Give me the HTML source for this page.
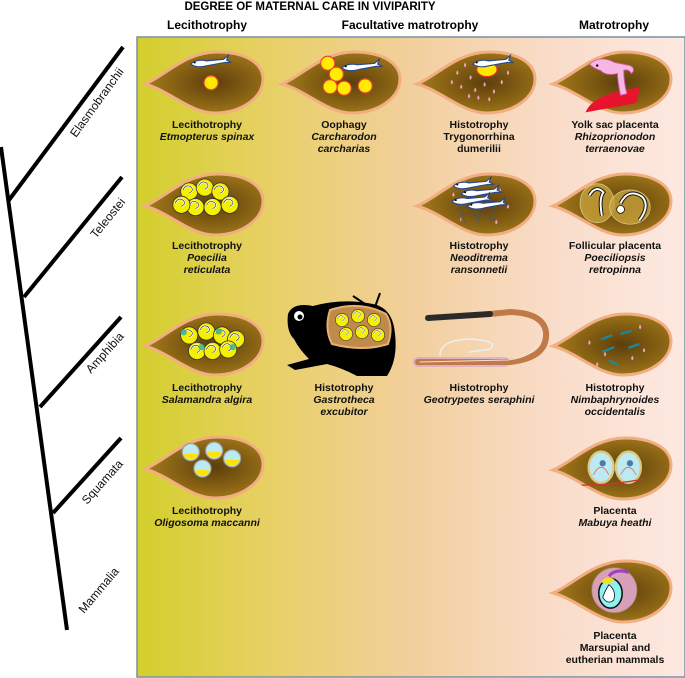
<!DOCTYPE html>
<html><head><meta charset="utf-8"><style>
html,body{margin:0;padding:0;background:#fff}
svg{display:block;font-family:"Liberation Sans",Arial,sans-serif}
.l{font-size:10.5px;font-weight:bold;text-anchor:middle;fill:#111}
.i{font-style:italic}
</style></head><body>
<svg width="685" height="678" viewBox="0 0 685 678">
<defs>
<linearGradient id="bg" x1="0" x2="1" y1="0" y2="0">
<stop offset="0" stop-color="#d3cf2c"/>
<stop offset="0.25" stop-color="#e8d068"/>
<stop offset="0.5" stop-color="#f2cf9c"/>
<stop offset="0.75" stop-color="#f9dcc8"/>
<stop offset="1" stop-color="#fde9e2"/>
</linearGradient>
<radialGradient id="bl" cx="0.58" cy="0.5" r="0.6">
<stop offset="0" stop-color="#5c3e0c"/>
<stop offset="0.6" stop-color="#8a6414"/>
<stop offset="1" stop-color="#a7801e"/>
</radialGradient>
<path id="blob" d="M0,34 C20,26 40,2 72,2 C102,2 118,14 118,29 C118,48 96,63 70,63 C45,63 25,41 0,34 Z" fill="url(#bl)" stroke="#f2ae80" stroke-width="3"/>
<g id="yolk"><circle r="9" fill="#ffec00" stroke="#e43" stroke-width="1.5"/></g>
<g id="egg"><circle r="11" fill="#f5f000" stroke="#333" stroke-width="1"/><path d="M-8,-2 q4,-8 10,-4 q5,4 -2,8" fill="none" stroke="#fff" stroke-width="2.5"/><path d="M-8,-2 q4,-8 10,-4 q5,4 -2,8" fill="none" stroke="#222" stroke-width="0.8"/></g>
<g id="fish"><path d="M0,0 q8,-7 20,-4 l22,-2 l6,-5 l-2,6 l6,3 l-8,0 l-22,4 q-14,4 -22,-2z" fill="#fff" stroke="#2a4a8a" stroke-width="1.5"/><circle cx="5" cy="-2" r="1.3" fill="#000"/></g>
<g id="drop"><path d="M0,-4 q3,4 0,6 q-3,-2 0,-6z" fill="#f0a0b4"/></g>
</defs>
<rect x="137" y="37" width="548" height="640" fill="url(#bg)" stroke="#7d8fa0" stroke-width="1.5"/>
<text x="310" y="10" font-size="11.5" font-weight="bold" text-anchor="middle">DEGREE OF MATERNAL CARE IN VIVIPARITY</text>
<text x="207" y="29" font-size="12" font-weight="bold" text-anchor="middle">Lecithotrophy</text>
<text x="410" y="29" font-size="12" font-weight="bold" text-anchor="middle">Facultative matrotrophy</text>
<text x="614" y="29" font-size="12" font-weight="bold" text-anchor="middle">Matrotrophy</text>
<g stroke="#000" stroke-width="4" fill="none">
<path d="M1,147 L67,630"/>
<path d="M9,200 L123,47"/>
<path d="M24,297 L122,177"/>
<path d="M40,407 L121,317"/>
<path d="M53,513 L121,438"/>
</g>
<g font-size="12" fill="#111">
<text transform="translate(76,138) rotate(-54)">Elasmobranchii</text>
<text transform="translate(96,239) rotate(-51)">Teleostei</text>
<text transform="translate(91,374) rotate(-48)">Amphibia</text>
<text transform="translate(87,505) rotate(-48)">Squamata</text>
<text transform="translate(84,614) rotate(-50)">Mammalia</text>
</g>
<g transform="translate(145,50)"><use href="#blob"/><g transform="translate(13,0) scale(0.78)"><use href="#fish" x="42" y="18"/><use href="#yolk" x="68" y="42"/></g></g>
<g transform="translate(282,50)"><use href="#blob"/><g transform="translate(13,0) scale(0.78)"><use href="#yolk" x="42" y="17"/><use href="#yolk" x="53" y="31"/><use href="#yolk" x="45" y="47"/><use href="#yolk" x="63" y="49"/><use href="#yolk" x="90" y="46"/><use href="#fish" x="60" y="23"/></g></g>
<g transform="translate(417,50)"><use href="#blob"/><g transform="translate(13,0) scale(0.78)">
<use href="#drop" x="35" y="30"/><use href="#drop" x="45" y="20"/><use href="#drop" x="52" y="36"/><use href="#drop" x="40" y="48"/><use href="#drop" x="58" y="52"/><use href="#drop" x="70" y="45"/><use href="#drop" x="82" y="54"/><use href="#drop" x="92" y="42"/><use href="#drop" x="100" y="30"/><use href="#drop" x="62" y="62"/><use href="#drop" x="76" y="64"/><use href="#drop" x="50" y="60"/><use href="#drop" x="28" y="42"/>
<ellipse cx="73" cy="25" rx="13" ry="9" fill="#ffe800" stroke="#e33" stroke-width="1.5"/><use href="#fish" x="55" y="18"/></g></g>
<g transform="translate(553,50)"><use href="#blob"/><g transform="translate(13,0) scale(0.78)"><path d="M25,80 q10,-25 70,-32 l-5,20 z" fill="#e8132c"/><path d="M30,18 q14,-12 32,-2 l20,4 q8,4 2,10 q-4,-6 -10,-4 q0,15 4,30 l-8,2 q-4,-18 -4,-28 q-14,4 -22,-4 q-8,-2 -14,-8z" fill="#f6b7e4" stroke="#d65caa" stroke-width="1.2"/><circle cx="40" cy="20" r="1.5" fill="#000"/></g></g>
<text class="l" x="207" y="128">Lecithotrophy</text><text class="l i" x="207" y="140">Etmopterus spinax</text>
<text class="l" x="344" y="128">Oophagy</text><text class="l i" x="344" y="140">Carcharodon</text><text class="l i" x="344" y="152">carcharias</text>
<text class="l" x="479" y="128">Histotrophy</text><text class="l" x="479" y="140">Trygonorrhina</text><text class="l" x="479" y="152">dumerilii</text>
<text class="l" x="615" y="128">Yolk sac placenta</text><text class="l i" x="615" y="140">Rhizoprionodon</text><text class="l i" x="615" y="152">terraenovae</text>
<g transform="translate(145,172)"><use href="#blob"/><g transform="translate(13,0) scale(0.78)"><use href="#egg" x="40" y="25"/><use href="#egg" x="60" y="20"/><use href="#egg" x="80" y="25"/><use href="#egg" x="48" y="45"/><use href="#egg" x="70" y="45"/><use href="#egg" x="92" y="42"/><use href="#egg" x="30" y="42"/></g></g>
<g transform="translate(417,172)"><use href="#blob"/><g transform="translate(13,0) scale(0.78)">
<use href="#drop" x="30" y="30"/><use href="#drop" x="45" y="15"/><use href="#drop" x="90" y="25"/><use href="#drop" x="100" y="45"/><use href="#drop" x="85" y="65"/><use href="#drop" x="40" y="62"/>
<g stroke="#555" stroke-width="1" fill="none"><path d="M35,40 l10,25 M45,40 l-5,25 M55,40 l8,25 M65,42 l-6,22 M75,42 l8,22 M85,42 l-8,22 M58,50 l20,10 M40,52 l25,5"/></g>
<use href="#fish" x="30" y="18"/><use href="#fish" x="40" y="28"/><use href="#fish" x="28" y="38"/><use href="#fish" x="48" y="44"/></g></g>
<g transform="translate(553,172)"><use href="#blob"/><g transform="translate(13,0) scale(0.78)"><ellipse cx="40" cy="40" rx="22" ry="25" fill="#c8a23a" stroke="#e9e0a0" opacity="0.8"/><ellipse cx="82" cy="45" rx="26" ry="22" fill="#c8a23a" stroke="#e9e0a0" opacity="0.8"/><path d="M30,30 q8,-14 18,-4 q-6,8 -2,30 M70,40 q10,-20 28,-8 q10,12 -4,30" fill="none" stroke="#111" stroke-width="5"/><path d="M30,30 q8,-14 18,-4 q-6,8 -2,30 M70,40 q10,-20 28,-8 q10,12 -4,30" fill="none" stroke="#fff" stroke-width="2.5"/><circle cx="70" cy="48" r="5" fill="#fff" stroke="#111"/></g></g>
<text class="l" x="207" y="249">Lecithotrophy</text><text class="l i" x="207" y="261">Poecilia</text><text class="l i" x="207" y="273">reticulata</text>
<text class="l" x="479" y="249">Histotrophy</text><text class="l i" x="479" y="261">Neoditrema</text><text class="l i" x="479" y="273">ransonnetii</text>
<text class="l" x="615" y="249">Follicular placenta</text><text class="l i" x="615" y="261">Poeciliopsis</text><text class="l i" x="615" y="273">retropinna</text>
<g transform="translate(145,312)"><use href="#blob"/><g transform="translate(13,0) scale(0.78)"><use href="#egg" x="40" y="30"/><use href="#egg" x="62" y="25"/><use href="#egg" x="82" y="30"/><use href="#egg" x="100" y="35"/><use href="#egg" x="50" y="50"/><use href="#egg" x="70" y="50"/><use href="#egg" x="90" y="48"/>
<g fill="#33b090" opacity="0.8"><circle cx="33" cy="26" r="4"/><circle cx="56" cy="45" r="4"/><circle cx="78" cy="25" r="4"/><circle cx="96" cy="45" r="4"/></g></g></g>
<g transform="translate(280,302)"><path d="M8,12 q5,-12 25,-8 q30,-8 60,-2 q20,4 22,30 q3,25 -8,42 l-30,0 q-15,-8 -30,-12 l-32,6 l-8,-5 l22,-6 q-10,-10 -15,-20 q-8,-8 -6,-25z" fill="#000"/><circle cx="19" cy="14" r="5" fill="#fff"/><circle cx="20" cy="15" r="2.5" fill="#000"/><path d="M50,8 q30,-10 56,4 q8,12 2,30 q-25,8 -56,0 q-8,-15 -2,-34z" fill="#c08a4a" stroke="#e8b070" stroke-width="2"/><use href="#egg" transform="translate(62,18) scale(0.6)"/><use href="#egg" transform="translate(78,14) scale(0.6)"/><use href="#egg" transform="translate(94,18) scale(0.6)"/><use href="#egg" transform="translate(66,32) scale(0.6)"/><use href="#egg" transform="translate(82,30) scale(0.6)"/><use href="#egg" transform="translate(98,33) scale(0.6)"/><path d="M95,5 l5,-14 M85,2 l-12,-8" stroke="#000" stroke-width="2"/></g>
<g fill="none" stroke-linecap="round">
<path d="M418,362 L505,362" stroke="#c888e8" stroke-width="10" opacity="0.45"/>
<path d="M418,362 L510,362 Q548,358 546,332 Q543,313 510,312 L490,314" stroke="#c07a48" stroke-width="6"/>
<path d="M490,314 L428,318" stroke="#2a2a2a" stroke-width="6"/>
<path d="M420,362 L508,360 Q540,356 540,334" stroke="#f5e0d0" stroke-width="1"/>
<path d="M440,355 q0,-15 30,-16 q30,2 20,10 l-20,3" stroke="#eee" stroke-width="1.5"/>
</g>
<g transform="translate(553,312)"><use href="#blob"/><g transform="translate(13,0) scale(0.78)"><use href="#drop" x="30" y="40"/><use href="#drop" x="50" y="55"/><use href="#drop" x="40" y="68"/><use href="#drop" x="95" y="20"/><use href="#drop" x="85" y="60"/><use href="#drop" x="100" y="50"/><g stroke="#1a8a9a" stroke-width="3"><path d="M45,35 l14,-5 M62,45 l-15,6 M70,28 l14,-4 M80,46 l14,-5 M55,62 l12,6"/></g></g></g>
<text class="l" x="207" y="391">Lecithotrophy</text><text class="l i" x="207" y="403">Salamandra algira</text>
<text class="l" x="344" y="391">Histotrophy</text><text class="l i" x="344" y="403">Gastrotheca</text><text class="l i" x="344" y="415">excubitor</text>
<text class="l" x="479" y="391">Histotrophy</text><text class="l i" x="479" y="403">Geotrypetes seraphini</text>
<text class="l" x="615" y="391">Histotrophy</text><text class="l i" x="615" y="403">Nimbaphrynoides</text><text class="l i" x="615" y="415">occidentalis</text>
<g transform="translate(145,435)"><use href="#blob"/><g transform="translate(13,0) scale(0.78)">
<g stroke="#999" stroke-width="1.5" fill="#bde9f0"><circle cx="42" cy="22" r="11"/><circle cx="72" cy="20" r="11"/><circle cx="95" cy="30" r="11"/><circle cx="57" cy="43" r="11"/></g>
<g fill="#ffe400"><path d="M33,24 h18 a9,7 0 0 1 -18,0z"/><path d="M63,22 h18 a9,7 0 0 1 -18,0z"/><path d="M86,32 h18 a9,7 0 0 1 -18,0z"/><path d="M48,45 h18 a9,7 0 0 1 -18,0z"/></g></g></g>
<g transform="translate(553,436)"><use href="#blob"/><g transform="translate(13,0) scale(0.78)"><ellipse cx="45" cy="40" rx="16" ry="20" fill="#bde9f0" stroke="#d9c880" stroke-width="3"/><ellipse cx="80" cy="40" rx="16" ry="20" fill="#bde9f0" stroke="#d9c880" stroke-width="3"/><path d="M35,50 q10,-20 20,0 M70,50 q10,-20 20,0" stroke="#e07060" fill="none"/><circle cx="47" cy="35" r="4" fill="#4a7aa8"/><circle cx="82" cy="35" r="4" fill="#4a7aa8"/><path d="M20,63 q40,0 80,-8" stroke="#c33" stroke-width="1.5" fill="none"/></g></g>
<text class="l" x="207" y="514">Lecithotrophy</text><text class="l i" x="207" y="526">Oligosoma maccanni</text>
<text class="l" x="615" y="514">Placenta</text><text class="l i" x="615" y="526">Mabuya heathi</text>
<g transform="translate(553,559)"><use href="#blob"/><g transform="translate(13,0) scale(0.78)"><circle cx="62" cy="40" r="29" fill="#d8a0b8" stroke="#a08060"/><path d="M55,22 q8,-10 25,-5" stroke="#a040c0" stroke-width="4" fill="none"/><ellipse cx="57" cy="44" rx="15" ry="19" fill="#8ef0f0" stroke="#111" stroke-width="2"/><path d="M55,33 q10,8 6,20 q-8,6 -14,-4 q4,-10 8,-16z" fill="#fff" stroke="#111"/><path d="M44,30 q8,-10 18,-4 l-5,6z" fill="#f0e020"/></g></g>
<text class="l" x="615" y="639">Placenta</text><text class="l" x="615" y="651">Marsupial and</text><text class="l" x="615" y="663">eutherian mammals</text>
</svg>
</body></html>
